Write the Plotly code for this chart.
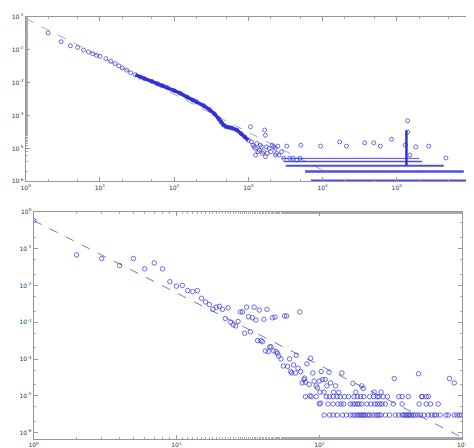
import plotly.graph_objects as go

# ---- top panel data ----
top_curve_x = [1,2,3,4,5,6,7,8,9,10,12,14,16,18,20,23,26,30,35,40,50,60,70,80,100,120,150,180,200,250,300,350,400,430,460,500,550,600,700,800,900,1000]
top_curve_logy = [-1.64,-1.49,-1.755,-1.88,-1.93,-2.01,-2.07,-2.12,-2.17,-2.2,-2.27,-2.35,-2.42,-2.49,-2.55,-2.62,-2.7,-2.76,-2.83,-2.88,-2.96,-3.03,-3.09,-3.14,-3.24,-3.32,-3.44,-3.53,-3.58,-3.7,-3.82,-3.95,-4.1,-4.2,-4.28,-4.34,-4.36,-4.38,-4.44,-4.55,-4.65,-4.75]
top_noise_x = [1070,1100,1150,1200,1250,1300,1350,1400,1450,1500,1550,1600,1660,1700,1750,1800,1900,2000,2100,2200,2300,2400,2500,2600,2800,3000,3300,3600,4000,4500,5000,5100,9400,17000,21000,37000,49000,60000,85000,140000,140000,130000,150000,180000,270000,460000,1250,1700,2300]
top_noise_logy = [-4.34,-4.8,-4.9,-4.95,-5.0,-4.85,-5.1,-5.05,-4.9,-4.95,-5.15,-5.1,-4.44,-4.6,-4.95,-5.15,-5.0,-5.1,-4.9,-4.95,-5.2,-5.15,-4.93,-5.2,-5.1,-5.3,-4.93,-5.3,-5.3,-5.35,-5.3,-4.9,-4.93,-4.8,-4.93,-4.83,-4.83,-4.93,-4.72,-4.5,-4.16,-4.9,-5.2,-4.95,-4.93,-5.29,-5.2,-5.25,-5.0]
band_level = [1e-6, 2e-6, 3e-6, 4e-6, 5e-6]
band_x0 = [7000, 5800, 3200, 3000, 2800]
band_x1 = [1e6, 8e5, 4.3e5, 2.2e5, 2e5]
band_w = [3.5, 2.5, 2, 1.5, 1]
peak_x = [135000, 135000]
peak_y = [3e-6, 3.5e-5]
top_fit_x = [1, 10000]
top_fit_y = [0.089, 2.2e-6]

# ---- bottom panel data ----
bot_x = [1,2,3,4,5,6,7,8,9,10,11,12,13,14,15,16,17,18,19,20,21,22,23,24,25,26,27,28,29,30,31,32,33,34,35,36,37,38,39,40,41,42,43,44,45,46,47,48,49,50,51,52,54,56,57,59,60,62,63,64,66,68,69,71,73,74,76,78,79,80,82,85,86,87,90,92,95,97,100,101,103,105,108,110,113,117,120,102,126,130,137,144,172,180,198,203,242,271,335,380,495,525,580,815,880]
bot_logy = [-0.24,-1.17,-1.27,-1.46,-1.27,-1.55,-1.39,-1.55,-1.9,-2.02,-2.0,-2.14,-2.17,-2.14,-2.35,-2.45,-2.52,-2.65,-2.59,-2.57,-2.65,-2.9,-2.61,-3.0,-3.07,-3.1,-2.98,-2.72,-2.72,-3.3,-2.59,-2.85,-3.26,-2.88,-2.59,-2.94,-3.5,-2.67,-3.5,-3.53,-2.92,-3.78,-2.65,-3.8,-3.67,-3.67,-2.88,-3.78,-2.86,-3.8,-3.85,-3.92,-4.0,-4.19,-2.83,-2.83,-4.2,-4.0,-4.34,-4.38,-4.16,-4.38,-3.9,-4.25,-2.72,-4.34,-4.65,-4.56,-4.52,-4.63,-4.13,-4.69,-5.0,-3.98,-4.38,-4.6,-4.73,-4.78,-4.6,-4.9,-4.34,-4.56,-4.9,-4.56,-4.73,-4.36,-4.65,-5.2,-4.9,-4.73,-4.91,-4.38,-4.66,-4.9,-4.73,-4.8,-4.9,-4.9,-4.53,-5.02,-4.4,-5.02,-5.02,-4.53,-4.65]
row_9e6_x = [80,88,95,112,118,125,133,140,150,160,175,185,195,205,225,240,255,262,280,300,360,420,520,560]
row_6e6_x = [100,115,125,135,142,148,165,172,178,185,190,198,215,230,245,255,265,275,290,330,380,500,560,600,680]
row_3e6_x = [108,118,125,133,145,155,165,172,178,185,190,195,200,205,210,218,225,235,245,255,262,270,290,310,340,360,380,390,400,410,420,430,440,455,470,490,510,540,580,610,640,660,700,770,800,880,920,960,990]
bot_fit_x = [1, 1000]
bot_fit_y = [0.58, 7.4e-7]

blue = "#3030d8"
fig = go.Figure()
mk = dict(symbol="circle-open", color=blue, size=4, line=dict(width=0.7))

fig.add_trace(go.Scatter(x=top_fit_x, y=top_fit_y, mode="lines", line=dict(color="#8888dd", width=0.8, dash="dash"), xaxis="x", yaxis="y"))
for lv, a, b, w in zip(band_level, band_x0, band_x1, band_w):
    fig.add_trace(go.Scatter(x=[a, b], y=[lv, lv], mode="lines", line=dict(color=blue, width=w), opacity=0.85, xaxis="x", yaxis="y"))
fig.add_trace(go.Scatter(x=peak_x, y=peak_y, mode="lines", line=dict(color=blue, width=2.5), xaxis="x", yaxis="y"))
fig.add_trace(go.Scatter(x=top_curve_x[17:], y=[10**v for v in top_curve_logy[17:]], mode="lines", line=dict(color=blue, width=3.5), xaxis="x", yaxis="y"))
fig.add_trace(go.Scatter(x=top_curve_x, y=[10**v for v in top_curve_logy], mode="markers", marker=mk, xaxis="x", yaxis="y"))
fig.add_trace(go.Scatter(x=top_noise_x, y=[10**v for v in top_noise_logy], mode="markers", marker=mk, xaxis="x", yaxis="y"))

mk2 = dict(symbol="circle-open", color=blue, size=4.5, line=dict(width=0.7))
fig.add_trace(go.Scatter(x=bot_fit_x, y=bot_fit_y, mode="lines", line=dict(color="#7777cc", width=1, dash="dash"), xaxis="x2", yaxis="y2"))
fig.add_trace(go.Scatter(x=bot_x, y=[10**v for v in bot_logy], mode="markers", marker=mk2, xaxis="x2", yaxis="y2"))
fig.add_trace(go.Scatter(x=row_9e6_x, y=[9.5e-6]*len(row_9e6_x), mode="markers", marker=mk2, xaxis="x2", yaxis="y2"))
fig.add_trace(go.Scatter(x=row_6e6_x, y=[6e-6]*len(row_6e6_x), mode="markers", marker=mk2, xaxis="x2", yaxis="y2"))
fig.add_trace(go.Scatter(x=row_3e6_x, y=[3e-6]*len(row_3e6_x), mode="markers", marker=mk2, xaxis="x2", yaxis="y2"))

def ax(rng, dom, anchor, lo, hi):
    vals = [10**k for k in range(lo, hi + 1)]
    return dict(type="log", range=rng, domain=dom, anchor=anchor, showgrid=False, zeroline=False,
                showline=True, mirror="ticks", linecolor="#999999", linewidth=1,
                ticks="inside", ticklen=4, tickcolor="#999999",
                tickvals=vals, ticktext=["10<sup>%d</sup>" % k for k in range(lo, hi + 1)],
                tickfont=dict(size=6, color="#333333", family="DejaVu Sans"),
                minor=dict(ticks="inside", ticklen=2, tickcolor="#aaaaaa"))

fig.update_layout(
    width=474, height=448, margin=dict(l=0, r=0, t=0, b=0),
    paper_bgcolor="white", plot_bgcolor="white", showlegend=False,
    xaxis=ax([0, 6], [0.0274, 0.987], "y", 0, 6),
    yaxis=ax([-6, -1], [0.616, 0.989], "x", -6, -1),
    xaxis2=ax([0, 3], [0.0443, 0.968], "y2", 0, 3),
    yaxis2=ax([-6.17, 0], [0.032, 0.547], "x2", -6, 0),
)
fig.write_html("out.html")
